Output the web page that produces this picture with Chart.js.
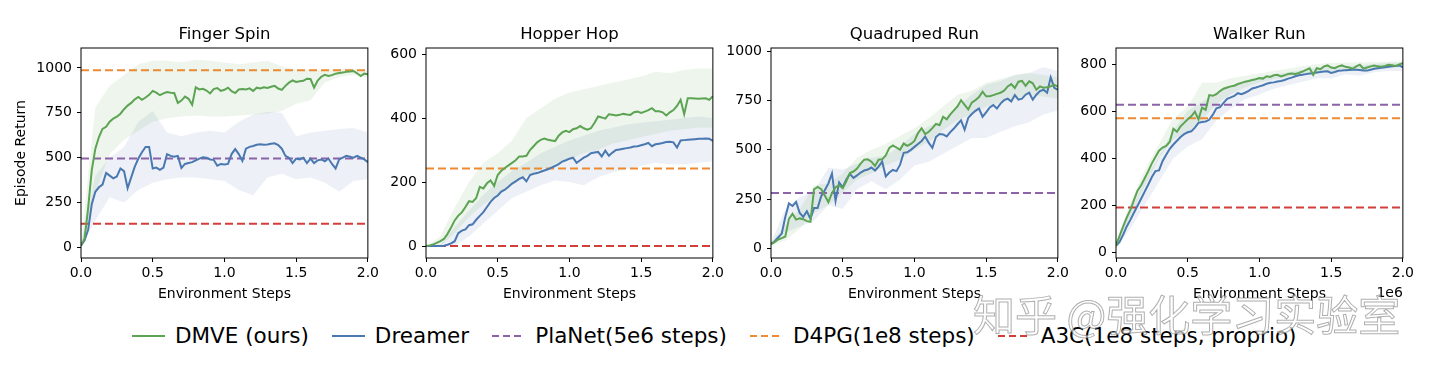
<!DOCTYPE html>
<html>
<head>
<meta charset="utf-8">
<script src="https://cdn.jsdelivr.net/npm/chart.js@4.4.1/dist/chart.umd.min.js"></script>
<style>
html, body { margin: 0; padding: 0; background: #fff; }
#wrap { position: relative; width: 1440px; height: 374px; overflow: hidden; font-family: "DejaVu Sans", sans-serif; }
#wrap canvas { position: absolute; top: 0; }
#legend { position: absolute; left: 132px; top: 322px; display: flex; gap: 23px; font-size: 21.5px; line-height: 28px; color: #000; white-space: nowrap; }
.item { display: flex; align-items: center; }
.item svg { margin-right: 10px; }
#mark { position: absolute; left: 973px; top: 282px; font: 42px "Noto Sans CJK SC"; color: rgba(255,255,255,0.6); -webkit-text-stroke: 1px rgba(110,110,110,0.55); white-space: nowrap; }
</style>
</head>
<body>
<div id="wrap">
  <div id="legend"></div>
  <div id="mark">知乎 @强化学习实验室</div>
</div>
<script>
// x grid of the curves (environment steps, 1e6)
const steps = [
  0, 0.025, 0.05, 0.075, 0.1, 0.125, 0.15, 0.175, 0.2, 0.225,
  0.25, 0.275, 0.3, 0.325, 0.35, 0.375, 0.4, 0.425, 0.45, 0.475,
  0.5, 0.525, 0.55, 0.575, 0.6, 0.625, 0.65, 0.675, 0.7, 0.725,
  0.75, 0.775, 0.8, 0.825, 0.85, 0.875, 0.9, 0.925, 0.95, 0.975,
  1.0, 1.025, 1.05, 1.075, 1.1, 1.125, 1.15, 1.175, 1.2, 1.225,
  1.25, 1.275, 1.3, 1.325, 1.35, 1.375, 1.4, 1.425, 1.45, 1.475,
  1.5, 1.525, 1.55, 1.575, 1.6, 1.625, 1.65, 1.675, 1.7, 1.725,
  1.75, 1.775, 1.8, 1.825, 1.85, 1.875, 1.9, 1.925, 1.95, 1.975,
  2.0
];
// x grid of the shaded bands
const bandSteps = [0, 0.1, 0.2, 0.3, 0.4, 0.5, 0.6, 0.7, 0.8, 0.9, 1.0, 1.1, 1.2, 1.3, 1.4, 1.5, 1.6, 1.7, 1.8, 1.9, 2.0];

const stepTicks = [0, 0.5, 1.0, 1.5, 2.0];
const fingerTicks = [0, 250, 500, 750, 1000];
const hopperTicks = [0, 200, 400, 600];
const quadTicks = [0, 250, 500, 750, 1000];
const walkerTicks = [0, 200, 400, 600, 800];

const panelTitles = ['Finger Spin', 'Hopper Hop', 'Quadruped Run', 'Walker Run'];
const seriesNames = ['DMVE (ours)', 'Dreamer', 'PlaNet(5e6 steps)', 'D4PG(1e8 steps)', 'A3C(1e8 steps, proprio)'];

// baselines per panel (null = not drawn)
const planet = [496, null, 281, 627];
const d4pg = [987, 242, null, 570];
const a3c = [132, 0, null, 191];

// Finger Spin
const fingerDmve = [
  10, 50, 220, 430, 550, 615, 660, 672, 700, 718,
  728, 745, 770, 790, 805, 825, 838, 822, 835, 850,
  872, 862, 848, 858, 866, 862, 860, 805, 818, 840,
  828, 795, 892, 880, 884, 874, 858, 882, 888, 872,
  878, 890, 870, 860, 880, 882, 880, 886, 872, 890,
  885, 892, 888, 895, 900, 885, 878, 900, 918, 930,
  922, 926, 928, 940, 938, 890, 930, 950, 962, 955,
  960, 968, 972, 975, 978, 980, 983, 970, 955, 968,
  965
];
const fingerDreamer = [
  10, 40, 100, 240, 310, 335, 350, 415, 400, 385,
  395, 440, 425, 330, 390, 450, 495, 530, 560, 560,
  440, 445, 432, 445, 520, 510, 505, 510, 442, 465,
  470, 475, 485, 495, 502, 500, 490, 488, 455, 465,
  462, 465, 520, 548, 520, 482, 550, 560, 565, 572,
  575, 572, 573, 578, 580, 570, 550, 510, 500, 470,
  495, 490, 500, 470, 495, 470, 485, 490, 480, 495,
  465, 440, 490, 500, 510, 505, 500, 510, 500, 490,
  475
];
const fingerDmveHi = [20, 780, 900, 960, 1020, 1040, 1040, 1030, 1045, 1040, 1030, 1020, 1030, 1040, 1010, 990, 990, 990, 995, 995, 985];
const fingerDmveLo = [0, 300, 520, 600, 650, 700, 720, 730, 735, 730, 730, 735, 740, 745, 760, 800, 820, 920, 950, 960, 945];
const fingerDreamerHi = [20, 400, 500, 560, 700, 760, 640, 620, 640, 650, 640, 700, 740, 755, 750, 620, 640, 650, 660, 665, 640];
const fingerDreamerLo = [0, 150, 280, 250, 320, 360, 380, 390, 390, 380, 370, 320, 290, 390, 410, 380, 390, 360, 310, 370, 380];

// Hopper Hop
const hopperDmve = [
  0, 2, 5, 10, 15, 22, 38, 58, 80, 95,
  105, 122, 140, 138, 150, 185, 180, 196, 205, 188,
  222, 235, 244, 252, 260, 268, 280, 280, 282, 300,
  312, 324, 332, 336, 332, 330, 328, 345, 355, 360,
  356, 365, 368, 375, 368, 364, 368, 385, 405, 402,
  398, 412, 410, 408, 410, 413, 411, 410, 418, 420,
  416, 420, 425, 431, 421, 421, 418, 408, 418, 425,
  438, 457, 412, 462, 462, 461, 460, 461, 462, 457,
  468
];
const hopperDreamer = [
  0, 0, 0, 0, 0, 1, 4, 8, 15, 40,
  48, 52, 65, 68, 82, 94, 106, 122, 138, 150,
  158, 170, 176, 185, 195, 202, 210, 215, 202, 222,
  226, 228, 232, 236, 240, 245, 250, 256, 264, 268,
  273, 276, 260, 268, 276, 282, 290, 292, 294, 280,
  298, 282, 292, 300, 302, 304, 306, 308, 311, 312,
  315, 318, 322, 312, 318, 320, 322, 325, 326, 324,
  308, 330, 331, 332, 333, 334, 335, 335, 336, 335,
  329
];
const hopperDmveHi = [0, 30, 120, 200, 260, 290, 330, 400, 430, 460, 480, 490, 500, 510, 520, 530, 545, 540, 550, 555, 555];
const hopperDmveLo = [0, 0, 40, 90, 130, 160, 190, 220, 240, 250, 270, 290, 300, 320, 330, 340, 350, 360, 365, 370, 370];
const hopperDreamerHi = [0, 5, 60, 110, 160, 200, 235, 260, 290, 310, 330, 345, 360, 370, 380, 385, 390, 395, 400, 405, 400];
const hopperDreamerLo = [0, 0, 0, 30, 70, 110, 150, 170, 190, 205, 200, 190, 215, 230, 240, 250, 260, 255, 255, 260, 265];

// Quadruped Run
const quadDmve = [
  22, 32, 45, 52, 60, 150, 175, 146, 152, 148,
  138, 135, 300, 312, 300, 268, 235, 280, 310, 320,
  305, 340, 382, 390, 405, 430, 450, 452, 440, 418,
  450, 452, 472, 510, 522, 512, 500, 532, 520, 530,
  545, 585, 610, 580, 592, 610, 632, 625, 668, 655,
  680, 700, 720, 752, 728, 705, 740, 752, 768, 795,
  772, 772, 778, 784, 790, 800, 822, 834, 814, 846,
  850, 825, 848, 838, 805, 822, 815, 818, 823, 830,
  822
];
const quadDreamer = [
  22, 35, 55, 75, 160, 228, 215, 235, 180, 160,
  188, 150, 205, 205, 265, 295, 330, 380, 240, 335,
  310, 350, 378, 358, 370, 385, 395, 400, 410, 395,
  415, 440, 365, 385, 398, 392, 425, 485, 488, 500,
  515, 530, 545, 568, 535, 510, 565, 580, 578, 568,
  590, 608, 630, 650, 602, 662, 682, 698, 710, 668,
  690, 715, 728, 710, 735, 752, 760, 746, 778, 755,
  760, 780, 790, 755, 780, 798, 805, 790, 868, 815,
  805
];
const quadDmveHi = [30, 120, 200, 320, 330, 380, 460, 500, 530, 570, 610, 660, 720, 780, 800, 840, 860, 880, 890, 880, 870];
const quadDmveLo = [15, 40, 100, 180, 220, 280, 350, 380, 420, 450, 500, 540, 600, 650, 680, 720, 740, 760, 780, 770, 760];
const quadDreamerHi = [30, 200, 260, 290, 410, 400, 430, 460, 470, 520, 580, 620, 650, 720, 780, 830, 850, 880, 890, 920, 900];
const quadDreamerLo = [15, 80, 110, 140, 220, 200, 300, 340, 300, 350, 420, 440, 480, 520, 560, 560, 590, 620, 640, 680, 700];

// Walker Run
const walkerDmve = [
  30, 70, 110, 148, 180, 222, 262, 285, 315, 345,
  378, 405, 432, 445, 452, 470, 525, 512, 535, 550,
  565, 578, 598, 565, 615, 605, 668, 665, 672, 685,
  695, 700, 705, 708, 715, 720, 725, 728, 732, 735,
  740, 738, 748, 745, 752, 754, 747, 752, 758, 760,
  758, 762, 768, 775, 782, 754, 782, 778, 790, 794,
  785, 782, 790, 794, 788, 785, 780, 790, 797, 780,
  785, 790, 794, 790, 788, 792, 797, 795, 792, 798,
  804
];
const walkerDreamer = [
  28, 44, 75, 110, 138, 168, 198, 228, 258, 288,
  320, 345, 348, 388, 415, 440, 458, 474, 490, 502,
  510, 514, 530, 550, 554, 556, 563, 585, 612, 617,
  635, 652, 658, 665, 676, 672, 678, 686, 696, 700,
  705, 710, 716, 720, 722, 726, 728, 732, 738, 742,
  748, 752, 754, 757, 760, 761, 764, 766, 768, 769,
  762, 766, 771, 772, 774, 775, 776, 776, 775, 772,
  772, 776, 780, 782, 784, 786, 788, 790, 792, 794,
  786
];
const walkerDmveHi = [40, 210, 350, 460, 570, 620, 720, 720, 740, 750, 760, 770, 780, 790, 800, 805, 805, 808, 808, 810, 812];
const walkerDmveLo = [20, 150, 280, 400, 480, 510, 560, 630, 670, 700, 720, 735, 745, 755, 765, 770, 775, 778, 780, 782, 790];
const walkerDreamerHi = [35, 175, 310, 410, 520, 600, 640, 680, 710, 730, 745, 755, 765, 775, 785, 790, 790, 795, 800, 805, 805];
const walkerDreamerLo = [20, 100, 200, 300, 400, 450, 480, 560, 610, 650, 670, 695, 710, 725, 740, 740, 755, 750, 765, 770, 770];

const GREEN = '#5ca453';
const BLUE = '#4a78b0';
const PURPLE = '#8c62a8';
const ORANGE = '#ec8b33';
const RED = '#d23f3b';
const GREEN_FILL = 'rgba(92,164,83,0.11)';
const BLUE_FILL = 'rgba(74,120,176,0.10)';
const colors = [GREEN, BLUE, PURPLE, ORANGE, RED];
const DASH = [8, 4];

Chart.defaults.font.family = '"DejaVu Sans", sans-serif';
Chart.defaults.color = '#000';

const wrap = document.getElementById('wrap');

function pts(xs, ys) {
  return xs.map((x, i) => ({ x: x, y: ys[i] }));
}

function curve(label, ys, color, order) {
  return { label, data: pts(steps, ys), borderColor: color, borderWidth: 2, pointRadius: 0, fill: false, order };
}

function hline(label, v, color) {
  return { label, data: [{ x: 0, y: v }, { x: 2, y: v }], borderColor: color, borderWidth: 2, borderDash: DASH, pointRadius: 0, fill: false, order: 2 };
}

function band(hi, lo, fillColor) {
  return [
    { label: 'hi', data: pts(bandSteps, hi), borderWidth: 0, pointRadius: 0, fill: false, order: 5 },
    { label: 'lo', data: pts(bandSteps, lo), borderWidth: 0, pointRadius: 0, fill: '-1', backgroundColor: fillColor, order: 5 }
  ];
}

const frame = {
  id: 'frame',
  afterDraw(chart, args, opts) {
    const { ctx, chartArea: a } = chart;
    ctx.save();
    ctx.strokeStyle = '#000';
    ctx.lineWidth = 1;
    ctx.strokeRect(a.left, a.top, a.right - a.left, a.bottom - a.top);
    if (opts.exponent) {
      ctx.font = '14px "DejaVu Sans"';
      ctx.fillStyle = '#000';
      ctx.textAlign = 'right';
      ctx.textBaseline = 'middle';
      ctx.fillText(opts.exponent, a.right, 293);
    }
    ctx.restore();
  }
};

function makePanel(p) {
  const canvas = document.createElement('canvas');
  canvas.width = p.axisW + 287 + 14;
  canvas.height = 310;
  canvas.style.left = (p.plotLeft - p.axisW) + 'px';
  wrap.appendChild(canvas);

  const datasets = [
    curve(seriesNames[0], p.dmve, GREEN, 0),
    curve(seriesNames[1], p.dreamer, BLUE, 1)
  ];
  if (planet[p.i] !== null) datasets.push(hline(seriesNames[2], planet[p.i], PURPLE));
  if (d4pg[p.i] !== null) datasets.push(hline(seriesNames[3], d4pg[p.i], ORANGE));
  if (a3c[p.i] !== null) datasets.push(hline(seriesNames[4], a3c[p.i], RED));
  datasets.push(...band(p.dmveHi, p.dmveLo, GREEN_FILL));
  datasets.push(...band(p.dreamerHi, p.dreamerLo, BLUE_FILL));

  new Chart(canvas, {
    type: 'line',
    data: { datasets },
    plugins: [frame],
    options: {
      responsive: false,
      animation: false,
      layout: { padding: { left: 0, right: 14, top: 0, bottom: 0 } },
      plugins: {
        legend: { display: false },
        tooltip: { enabled: false },
        title: {
          display: true, text: panelTitles[p.i], color: '#000',
          fullSize: false, // centre the title over the plot, not the canvas
          font: { size: 16.5, weight: 'normal' },
          padding: { top: 25, bottom: 3.2 }
        },
        frame: { exponent: p.exponent || '' }
      },
      scales: {
        x: {
          type: 'linear', min: 0, max: 2,
          afterBuildTicks: s => { s.ticks = stepTicks.map(v => ({ value: v })); },
          afterFit: s => { s.height = 52; },
          ticks: { callback: v => v.toFixed(1), font: { size: 14 }, color: '#000', padding: 3, maxRotation: 0, autoSkip: false },
          grid: { drawOnChartArea: false, drawTicks: true, tickLength: 4, tickColor: '#000' },
          border: { display: false },
          title: { display: true, text: 'Environment Steps', color: '#000', font: { size: 14 }, padding: { top: 0, bottom: 7.6 } }
        },
        y: {
          min: p.yMin, max: p.yMax,
          afterBuildTicks: s => { s.ticks = p.yTicks.map(v => ({ value: v })); },
          afterFit: s => { s.width = p.axisW; },
          ticks: { callback: v => String(v), font: { size: 14 }, color: '#000', padding: 5 },
          grid: { drawOnChartArea: false, drawTicks: true, tickLength: 4, tickColor: '#000' },
          border: { display: false },
          title: { display: !!p.yTitle, text: 'Episode Return', color: '#000', font: { size: 14 }, padding: { top: 13, bottom: 0 } }
        }
      }
    }
  });
}

makePanel({ i: 0, plotLeft: 81, axisW: 81, yMin: -59, yMax: 1111, yTicks: fingerTicks, yTitle: true,
  dmve: fingerDmve, dreamer: fingerDreamer, dmveHi: fingerDmveHi, dmveLo: fingerDmveLo, dreamerHi: fingerDreamerHi, dreamerLo: fingerDreamerLo });
makePanel({ i: 1, plotLeft: 426, axisW: 50, yMin: -37.5, yMax: 619, yTicks: hopperTicks,
  dmve: hopperDmve, dreamer: hopperDreamer, dmveHi: hopperDmveHi, dmveLo: hopperDmveLo, dreamerHi: hopperDreamerHi, dreamerLo: hopperDreamerLo });
makePanel({ i: 2, plotLeft: 771, axisW: 50, yMin: -49, yMax: 1017, yTicks: quadTicks,
  dmve: quadDmve, dreamer: quadDreamer, dmveHi: quadDmveHi, dmveLo: quadDmveLo, dreamerHi: quadDreamerHi, dreamerLo: quadDreamerLo });
makePanel({ i: 3, plotLeft: 1116, axisW: 50, yMin: -24, yMax: 868, yTicks: walkerTicks, exponent: '1e6',
  dmve: walkerDmve, dreamer: walkerDreamer, dmveHi: walkerDmveHi, dmveLo: walkerDmveLo, dreamerHi: walkerDreamerHi, dreamerLo: walkerDreamerLo });

// shared legend under the panels
const legend = document.getElementById('legend');
seriesNames.forEach((name, k) => {
  const item = document.createElement('div');
  item.className = 'item';
  const dash = k >= 2 ? ' stroke-dasharray="7,4"' : '';
  item.innerHTML = '<svg width="33" height="10"><line x1="0" y1="5" x2="33" y2="5" stroke="' + colors[k] +
    '" stroke-width="2"' + dash + '/></svg><span>' + name + '</span>';
  legend.appendChild(item);
});
// keep the watermark above the canvases
wrap.appendChild(document.getElementById('mark'));
</script>
</body>
</html>
